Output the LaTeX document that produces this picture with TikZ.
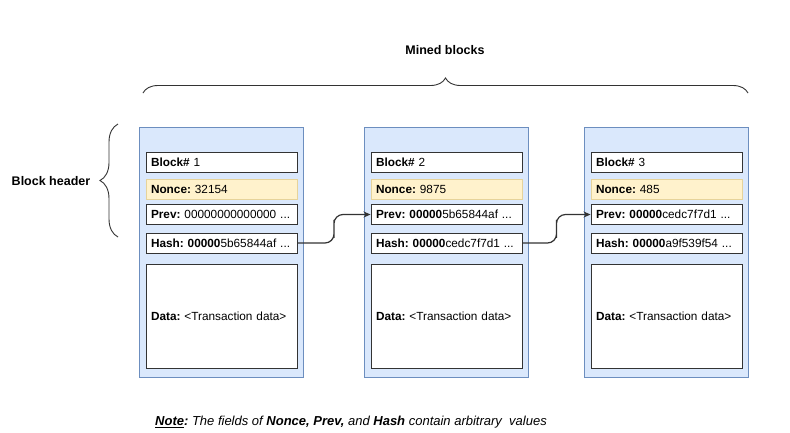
\documentclass[tikz,border=0pt]{standalone}
\usepackage{fontspec}
\setmainfont{Liberation Sans}
\usepackage{xcolor}
\usetikzlibrary{arrows.meta, positioning, calc, decorations.pathreplacing}
\definecolor{blockblue}{HTML}{DAE8FC}
\definecolor{blockedge}{HTML}{6C8EBF}
\definecolor{noncefill}{HTML}{FFF2CC}
\definecolor{nonceedge}{HTML}{D6B656}
\definecolor{ink}{HTML}{333333}
\frenchspacing

\tikzset{
  block/.style={draw=blockedge, fill=blockblue, minimum width=164pt, minimum height=250pt, inner sep=0pt},
  field/.style={draw=ink, fill=white, line width=0.9pt, text width=141pt, align=left, inner sep=0pt, inner xsep=5pt, minimum height=20pt, font=\fontsize{11.8}{13}\selectfont},
  noncefield/.style={field, draw=nonceedge!60, fill=noncefill, line width=0.5pt},
  datafield/.style={field, minimum height=104pt},
  link/.style={-{Stealth[length=7pt,width=6pt]}, line width=1.2pt, ink, rounded corners=9pt},
  bracket/.style={decorate, decoration={brace, amplitude=#1}, line width=0.9pt, ink},
  label/.style={font=\bfseries\fontsize{12.5}{14}\selectfont}
}

\begin{document}
\begin{tikzpicture}[x=1pt, y=-1pt]
  \useasboundingbox[fill=white] (0,0) rectangle (790,432);
  % blocks
  \node[block] (b1) at (221,252) {};
  \node[block] (b2) at (446,252) {};
  \node[block] (b3) at (666,252) {};
  % block 1
  \node[field] (k1) at (221.5,162) {\textbf{Block\#} 1};
  \node[noncefield] (n1) at (221.5,189.5) {\textbf{Nonce:} 32154};
  \node[field] (p1) at (221.5,214.5) {\textbf{Prev:} 00000000000000 ...};
  \node[field] (h1) at (221.5,243) {\textbf{Hash: 00000}5b65844af ...};
  \node[datafield] (d1) at (221.5,316) {\textbf{Data:} <Transaction data>};
  % block 2
  \node[field] (k2) at (446.5,162) {\textbf{Block\#} 2};
  \node[noncefield] (n2) at (446.5,189.5) {\textbf{Nonce:} 9875};
  \node[field] (p2) at (446.5,214.5) {\textbf{Prev: 00000}5b65844af ...};
  \node[field] (h2) at (446.5,243) {\textbf{Hash: 00000}cedc7f7d1 ...};
  \node[datafield] (d2) at (446.5,316) {\textbf{Data:} <Transaction data>};
  % block 3
  \node[field] (k3) at (666.5,162) {\textbf{Block\#} 3};
  \node[noncefield] (n3) at (666.5,189.5) {\textbf{Nonce:} 485};
  \node[field] (p3) at (666.5,214.5) {\textbf{Prev: 00000}cedc7f7d1 ...};
  \node[field] (h3) at (666.5,243) {\textbf{Hash: 00000}a9f539f54 ...};
  \node[datafield] (d3) at (666.5,316) {\textbf{Data:} <Transaction data>};
  % hash -> prev
  \draw[link] (h1.east) -| ($(h1.east)!0.5!(p2.west)$) |- (p2.west);
  \draw[link] (h2.east) -| ($(h2.east)!0.5!(p3.west)$) |- (p3.west);
  % braces and labels
  \node[label] (mined) at (445,50) {Mined blocks};
  \draw[bracket=15pt] (143,93) -- (748,93);
  \node[label] (header) at (51,181) {Block header};
  \draw[bracket=18pt] (118,237) -- (118,124);
  \node (note) at (351,422) {\fontsize{13}{15}\selectfont\itshape\underline{\textbf{Note}}\textbf{:} The fields of \textbf{Nonce, Prev,} and \textbf{Hash} contain arbitrary\ \ values};
\end{tikzpicture}
\end{document}
